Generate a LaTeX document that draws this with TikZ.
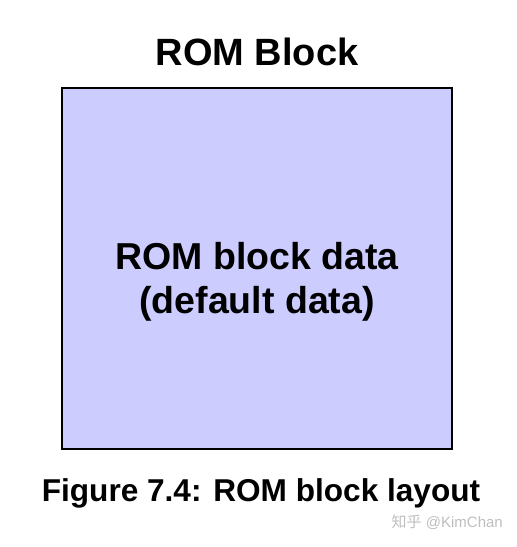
\documentclass[tikz,border=0pt]{standalone}
\usepackage{fontspec}
\setmainfont{Liberation Sans}
\newfontfamily\cjkfont{Noto Sans CJK SC}
\usetikzlibrary{positioning}
\definecolor{cRom}{RGB}{204,204,255}
\definecolor{cEdge}{RGB}{0,0,0}
\definecolor{cMark}{RGB}{190,190,190}
\tikzset{
  romblock/.style={
    rectangle, draw=cEdge, line width=2pt, fill=cRom,
    minimum width=390pt, minimum height=361pt, inner sep=0pt,
  },
  datatext/.style={align=center, font=\fontsize{37.5}{44}\selectfont\bfseries, inner sep=0pt},
  heading/.style={font=\fontsize{38}{44}\selectfont\bfseries, inner sep=0pt},
  caption/.style={font=\fontsize{31.6}{36}\selectfont\bfseries, inner sep=0pt},
  wmark/.style={font=\fontsize{15}{18}\selectfont, text=cMark, inner sep=0pt},
}
\begin{document}
\begin{tikzpicture}[x=1pt,y=-1pt]
\useasboundingbox (0,0) rectangle (517,547);

% ===== block and labels =====
\node[romblock] (rom) at (257,268.5) {};
\node[datatext] (data) at ([yshift=-13pt]rom.center) {ROM block data\\(default data)};
\node[heading, above=21pt of rom] (title) {ROM Block};
\node[caption, below=28pt of rom, xshift=4pt] (cap) {Figure 7.4: ROM block layout};

% ===== watermark =====
\node[wmark, anchor=east] (wm) at (503,522) {{\cjkfont 知乎} @KimChan};

\end{tikzpicture}
\end{document}
